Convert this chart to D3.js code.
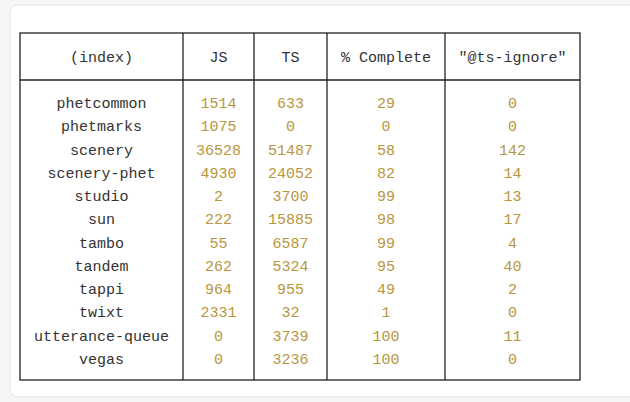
<!DOCTYPE html><html><head><meta charset="utf-8"><script src="https://cdn.jsdelivr.net/npm/d3@7"></script>
<style>body{margin:0;background:#f6f6f6}</style></head><body><svg id="c" width="630" height="402"></svg>
<script>
const headers = ["(index)", "JS", "TS", "% Complete", "\"@ts-ignore\""];
const repos = ["phetcommon","phetmarks","scenery","scenery-phet","studio","sun","tambo","tandem","tappi","twixt","utterance-queue","vegas"];
const js = [1514,1075,36528,4930,2,222,55,262,964,2331,0,0];
const ts = [633,0,51487,24052,3700,15885,6587,5324,955,32,3739,3236];
const pct = [29,0,58,82,99,98,99,95,49,1,100,100];
const ignore = [0,0,142,14,13,17,4,40,2,0,11,0];

const svg = d3.select("#c");
svg.append("rect").attr("x",10).attr("y",5).attr("width",640).attr("height",392).attr("rx",8)
  .attr("fill","#fff").attr("stroke","#e2e2e2");
const edges = [20,183,254,327,445,580];
const x = d3.scaleOrdinal().domain(headers).range(headers.map((h,i)=>(edges[i]+edges[i+1])/2));
const y = d3.scalePoint().domain(repos).range([103,359]);
const font = "'Liberation Mono','DejaVu Sans Mono', monospace";
const g = svg.append("g");
g.append("rect").attr("x",20).attr("y",33).attr("width",560).attr("height",347).attr("fill","none").attr("stroke","#222").attr("stroke-width",1.3);
g.append("line").attr("x1",20).attr("x2",580).attr("y1",80).attr("y2",80).attr("stroke","#222").attr("stroke-width",1.3);
g.selectAll("line.v").data(edges.slice(1,-1)).join("line").attr("x1",d=>d).attr("x2",d=>d).attr("y1",33).attr("y2",380).attr("stroke","#222").attr("stroke-width",1.3);
g.selectAll("text.h").data(headers).join("text").attr("x",d=>x(d)).attr("y",62).attr("text-anchor","middle")
  .attr("font-family",font).attr("font-size",15).attr("fill","#333").text(d=>d);
const cols = [repos, js, ts, pct, ignore];
repos.forEach((r,i)=>{
  cols.forEach((c,j)=>{
    g.append("text").attr("x",x(headers[j])).attr("y",y(r)+5).attr("text-anchor","middle")
      .attr("font-family",font).attr("font-size",15).attr("fill", j===0?"#333":"#b8963c").text(c[i]);
  });
});
</script></body></html>
